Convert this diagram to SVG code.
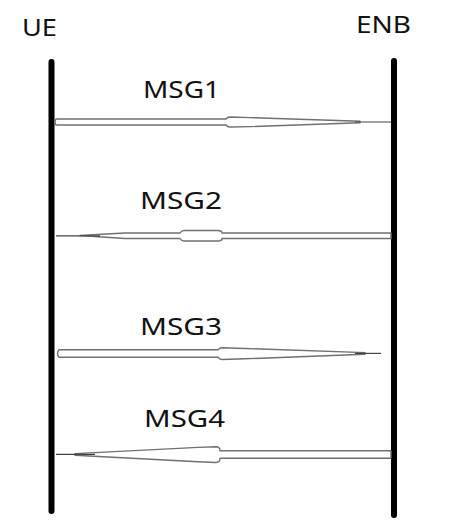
<svg xmlns="http://www.w3.org/2000/svg" width="474" height="520" viewBox="0 0 474 520">
<style>
.lbl{font-family:"Noto Sans","Open Sans","Liberation Sans",sans-serif;font-size:23px;fill:#111}
.life{stroke:#000;stroke-width:6;stroke-linecap:round;fill:none}
.msg{fill:#fff;stroke:#707070;stroke-width:1.4;stroke-linejoin:round}
.tip{stroke:#444;stroke-width:1.2;fill:none}
</style>
<rect width="474" height="520" fill="#fff"/>
<g id="UE">
<line class="life" x1="51.5" y1="62" x2="51.5" y2="511"/>
<text class="lbl" x="22" y="35.5" textLength="35" lengthAdjust="spacingAndGlyphs">UE</text>
</g>
<g id="ENB">
<line class="life" x1="394" y1="61" x2="394" y2="515"/>
<text class="lbl" x="356" y="33.3" textLength="55" lengthAdjust="spacingAndGlyphs">ENB</text>
</g>
<g id="connectors">
<g id="msg1">
<path class="msg" d="M56,119 L226,119 Q227.5,117 230,117 L250,117.6 L360,121.2 L360,122.8 L250,126.6 L230,127 Q227.5,127 226,125 L56,125 Q54,122 56,119 Z"/>
<line class="tip" x1="355" y1="122" x2="391" y2="122"/>
<text class="lbl" x="143" y="98" textLength="77" lengthAdjust="spacingAndGlyphs">MSG1</text>
</g>
<g id="msg2">
<path class="msg" d="M80,235.5 L125,233 L180,233 Q181.5,230.5 184,230.5 L218,230.5 Q222,230.5 222,233 L391,233 L391,238.5 L222,238.5 Q222,241 218,241 L184,241 Q181.5,241 180,238.5 L125,238.5 Z"/>
<line class="tip" x1="56" y1="235.8" x2="100" y2="235.8"/>
<text class="lbl" x="140" y="209.3" textLength="82" lengthAdjust="spacingAndGlyphs">MSG2</text>
</g>
<g id="msg3">
<path class="msg" d="M59,349.8 L218,349.8 Q219.5,347.8 222,347.8 L245,348.5 L365,352.6 L365,354.2 L245,358.8 L222,359.5 Q219.5,359.5 218,357.2 L59,357.2 Q56,353.5 59,349.8 Z"/>
<line class="tip" x1="355" y1="353.4" x2="381" y2="353.4"/>
<text class="lbl" x="140" y="335" textLength="82" lengthAdjust="spacingAndGlyphs">MSG3</text>
</g>
<g id="msg4">
<path class="msg" d="M75,453.6 L198,447.4 L216,446.8 Q220,446.8 220,450.7 L391,450.7 L391,458.3 L220,458.3 Q220,462.5 216,462.5 L198,461.8 L75,455.2 Z"/>
<line class="tip" x1="56" y1="454.4" x2="95" y2="454.4"/>
<text class="lbl" x="144" y="426.6" textLength="81" lengthAdjust="spacingAndGlyphs">MSG4</text>
</g>
</g>
</svg>
